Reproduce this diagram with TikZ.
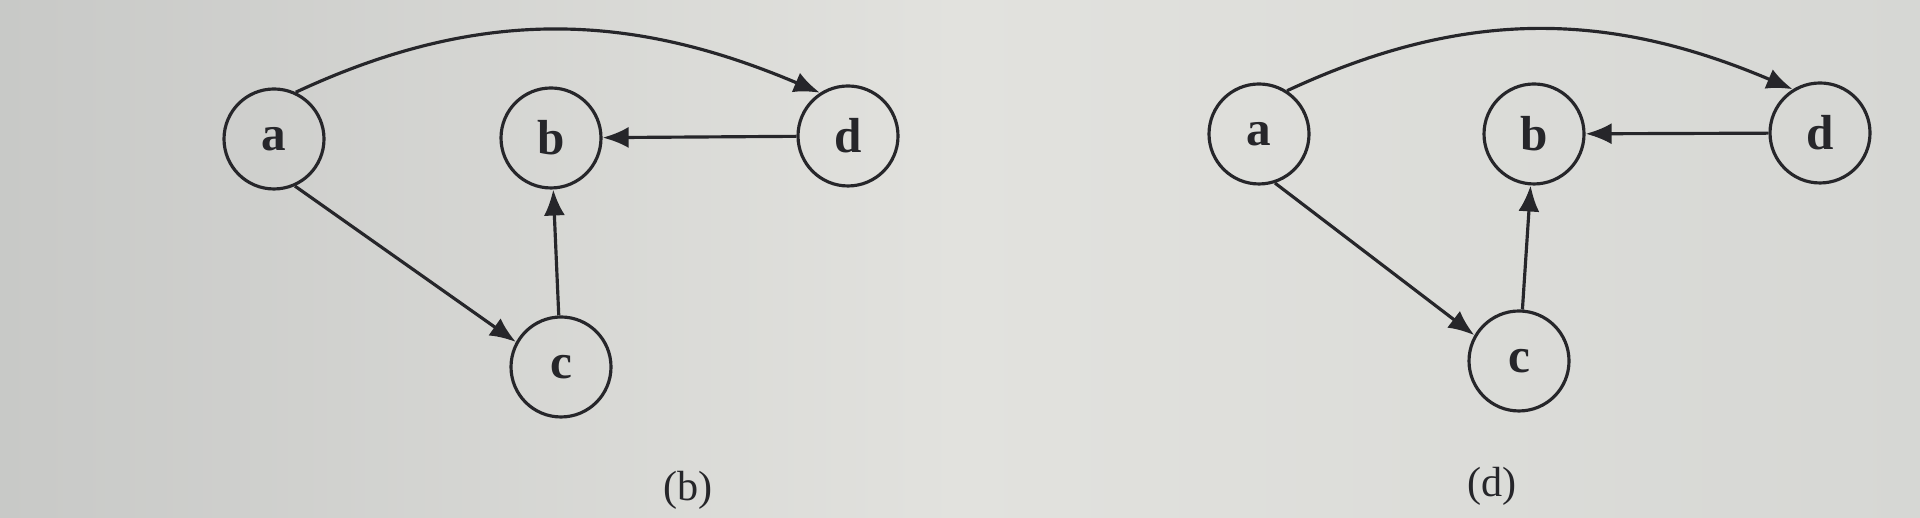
\documentclass[tikz,border=0pt]{standalone}
\usepackage{fontspec}
\setmainfont{Liberation Serif}
\usepackage{tikz}
\usetikzlibrary{arrows.meta}

\definecolor{paperL}{RGB}{200,201,199}
\definecolor{paperM}{RGB}{226,226,222}
\definecolor{paperR}{RGB}{214,215,212}
\definecolor{ink}{RGB}{38,38,42}

\begin{document}
\begin{tikzpicture}[vert/.style={circle, draw=ink, line width=0.9pt, minimum size=1cm, inner sep=0pt, font=\fontsize{14}{16}\selectfont\bfseries, text=ink},
  arc/.style={draw=ink, line width=0.9pt, -{Latex[length=2.6mm,width=2.1mm]}},
  sublbl/.style={font=\fontsize{12}{14}\selectfont, text=ink}]
\shade[left color=paperL, right color=paperR, middle color=paperM] (0,0) rectangle (19.2,5.18);
\useasboundingbox (0,0) rectangle (19.2,5.18);
% (b)
\node[vert] (A1) at (2.74,3.79) {a};
\node[vert] (B1) at (5.51,3.80) {b};
\node[vert] (C1) at (5.61,1.51) {c};
\node[vert] (D1) at (8.48,3.82) {d};
\node[sublbl] (L1) at (6.88,0.28) {(b)};
\draw[arc] (A1.65) to[out=25, in=157] (D1.123);
\draw[arc] (D1)--(B1);
\draw[arc] (C1)--(B1);
\draw[arc] (A1.-66)--(C1.151);
% (d)
\node[vert] (A2) at (12.59,3.84) {a};
\node[vert] (B2) at (15.34,3.84) {b};
\node[vert] (C2) at (15.19,1.57) {c};
\node[vert] (D2) at (18.20,3.85) {d};
\node[sublbl] (L2) at (14.92,0.32) {(d)};
\draw[arc] (A2.57) to[out=25, in=157] (D2.122);
\draw[arc] (D2)--(B2);
\draw[arc] (C2)--(B2);
\draw[arc] (A2.-72)--(C2.150);
\end{tikzpicture}
\end{document}
